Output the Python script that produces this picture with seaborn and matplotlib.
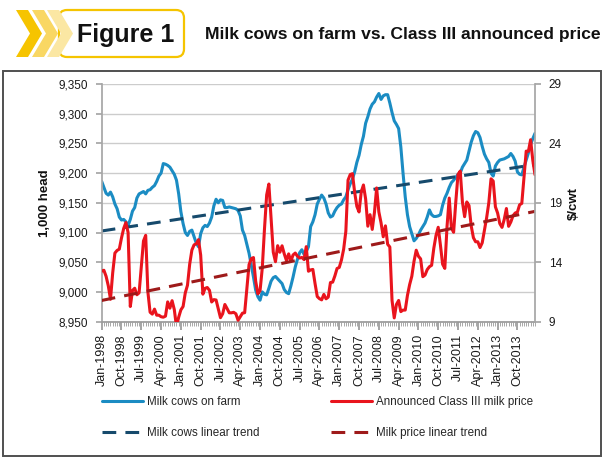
import numpy as np
import pandas as pd
import matplotlib
matplotlib.use("Agg")
import matplotlib.pyplot as plt
from matplotlib.patches import Polygon, FancyBboxPatch, Rectangle
from matplotlib.lines import Line2D
from matplotlib.ticker import FuncFormatter
import seaborn as sns

# Monthly data, Jan-1998 .. Jun-2014
cows = [
    9186, 9176, 9166, 9163, 9168, 9160, 9148, 9140, 9126, 9121, 9122, 9118,
    9112, 9122, 9136, 9142, 9158, 9165, 9167, 9169, 9165, 9171, 9172, 9176,
    9179, 9186, 9195, 9200, 9216, 9215, 9213, 9210, 9204, 9198, 9188, 9165,
    9135, 9115, 9100, 9095, 9102, 9104, 9093, 9082, 9076, 9098, 9108, 9112,
    9110, 9116, 9126, 9145, 9156, 9150, 9155, 9154, 9142, 9142, 9143, 9142,
    9141, 9140, 9137, 9128, 9104, 9095, 9080, 9065, 9045, 9025, 9003, 8992,
    8986, 9000, 8996, 8995, 9006, 9018, 9024, 9026, 9022, 9018, 9014, 9004,
    8999, 8997, 9010, 9025, 9042, 9055, 9066, 9071, 9063, 9068, 9076, 9110,
    9118, 9130, 9148, 9156, 9163, 9158, 9148, 9133, 9126, 9128, 9136, 9142,
    9146, 9148, 9155, 9160, 9172, 9182, 9190, 9202, 9218, 9230, 9248, 9262,
    9284, 9295, 9308, 9316, 9320, 9328, 9334, 9324, 9330, 9332, 9332, 9318,
    9302, 9288, 9282, 9275, 9244, 9200, 9160, 9130, 9110, 9098, 9086, 9090,
    9096, 9104, 9110, 9116, 9126, 9138, 9130, 9127, 9127, 9128, 9130, 9146,
    9158, 9166, 9176, 9184, 9188, 9193, 9198, 9200, 9210, 9216, 9222, 9237,
    9252, 9263, 9270, 9268, 9260, 9245, 9232, 9224, 9218, 9200, 9195, 9212,
    9218, 9222, 9223, 9224, 9226, 9228, 9233, 9228, 9220, 9202, 9198, 9197,
    9210, 9222, 9234, 9248, 9258, 9267,
]
price = [
    13.25, 13.32, 12.81, 12.01, 10.88, 13.10, 14.77, 14.99, 15.10, 16.04, 16.84, 17.34,
    16.50, 10.27, 11.62, 11.81, 11.26, 11.42, 13.59, 15.79, 16.26, 11.49, 9.79, 9.63,
    10.05, 9.54, 9.54, 9.41, 9.37, 9.46, 10.66, 10.13, 10.76, 10.02, 8.57, 9.37,
    9.99, 10.27, 11.42, 12.06, 13.83, 15.02, 15.46, 15.55, 15.90, 14.60, 11.31, 11.80,
    11.87, 11.63, 10.65, 10.85, 10.82, 10.09, 9.33, 9.66, 10.44, 10.10, 9.74, 9.74,
    9.78, 9.66, 9.11, 9.41, 9.71, 9.75, 11.78, 13.80, 14.30, 14.39, 12.41, 11.34,
    11.61, 13.49, 16.77, 19.66, 20.58, 17.68, 14.85, 14.04, 15.39, 14.84, 15.38, 14.70,
    14.14, 14.70, 14.08, 14.61, 14.77, 14.50, 14.35, 14.40, 14.22, 15.31, 13.24, 13.35,
    13.39, 12.20, 11.11, 10.93, 10.83, 11.29, 10.92, 11.06, 12.29, 12.32, 12.84, 13.47,
    13.56, 14.18, 15.09, 16.60, 20.91, 21.38, 21.45, 19.89, 18.70, 18.23, 19.92, 20.50,
    19.32, 17.03, 18.00, 16.76, 18.18, 20.25, 18.24, 17.32, 16.14, 17.06, 15.51, 15.28,
    10.78, 9.31, 10.44, 10.78, 9.84, 9.97, 9.97, 11.20, 12.11, 12.82, 14.08, 15.01,
    14.50, 14.28, 12.78, 12.92, 13.38, 13.62, 13.74, 15.18, 16.26, 16.94, 15.44, 13.83,
    13.48, 17.00, 19.40, 16.87, 16.52, 19.11, 21.39, 21.67, 19.07, 17.83, 19.07, 18.77,
    17.05, 16.06, 15.72, 15.72, 15.23, 15.63, 16.68, 17.73, 19.00, 21.02, 20.83, 18.66,
    18.14, 17.25, 16.93, 17.59, 18.52, 17.02, 17.38, 17.91, 18.14, 18.22, 18.83, 18.95,
    21.15, 23.35, 23.33, 24.31, 22.57, 21.36,
]
tick_labels = [
    "Jan-1998", "Oct-1998", "Jul-1999", "Apr-2000", "Jan-2001", "Oct-2001",
    "Jul-2002", "Apr-2003", "Jan-2004", "Oct-2004", "Jul-2005", "Apr-2006",
    "Jan-2007", "Oct-2007", "Jul-2008", "Apr-2009", "Jan-2010", "Oct-2010",
    "Jul-2011", "Apr-2012", "Jan-2013", "Oct-2013",
]
series_labels = ["Milk cows on farm", "Milk cows linear trend",
                 "Announced Class III milk price", "Milk price linear trend"]

COW_BLUE = "#1b8cc3"
PRICE_RED = "#e9141d"
COW_TREND = "#164a6c"
PRICE_TREND = "#9e1a1a"
GRID = "#cccccc"
DASH = (0, (4.5, 3))

sns.set_theme(style="white")
plt.rcParams["font.family"] = ["Liberation Sans", "DejaVu Sans"]

df = pd.DataFrame({"month": np.arange(len(cows)), "cows": cows, "price": price})

W, H = 610, 468
fig = plt.figure(figsize=(W / 100, H / 100), dpi=100)

def fx(x):
    return x / W

def fy(y):
    return 1 - y / H

# outer frame
fig.patches.append(Rectangle((fx(3), fy(456)), fx(598), (456 - 71) / H,
                             transform=fig.transFigure, fill=False,
                             edgecolor="#505050", lw=1.4))

# header
hax = fig.add_axes([0, fy(64), 1, 64 / H])
hax.set_xlim(0, W)
hax.set_ylim(64, 0)
hax.axis("off")
hax.add_patch(FancyBboxPatch((59, 10), 125, 47, boxstyle="round,pad=0,rounding_size=8",
                             fc="white", ec="#f5c400", lw=1.6))
for x0, c in [(16, "#f6c400"), (32, "#f9d763"), (47, "#fbe7a3")]:
    pts = [(x0, 10), (x0 + 12, 10), (x0 + 26, 33.5), (x0 + 12, 57), (x0, 57), (x0 + 14, 33.5)]
    hax.add_patch(Polygon(pts, closed=True, fc=c, ec="none"))
hax.text(77, 35, "Figure 1", fontsize=18, fontweight="bold", va="center", ha="left", color="#111111")
hax.text(205, 35, "Milk cows on farm vs. Class III announced price", fontsize=12.6,
         fontweight="bold", va="center", ha="left", color="#111111")

# chart
ax = fig.add_axes([fx(101.7), fy(321.6), (535 - 101.7) / W, (321.6 - 84) / H])
ax2 = ax.twinx()

sns.lineplot(data=df, x="month", y="cows", ax=ax, color=COW_BLUE, lw=2.2)
sns.regplot(data=df, x="month", y="cows", ax=ax, scatter=False, ci=None, color=COW_TREND,
            line_kws=dict(lw=2.2, linestyle=DASH))
sns.lineplot(data=df, x="month", y="price", ax=ax2, color=PRICE_RED, lw=2.2)
sns.regplot(data=df, x="month", y="price", ax=ax2, scatter=False, ci=None, color=PRICE_TREND,
            line_kws=dict(lw=2.2, linestyle=DASH))

ax.set_xlim(0, len(cows) - 1)
ax.set_ylim(8950, 9350)
ax.set_yticks(range(8950, 9351, 50))
ax.yaxis.set_major_formatter(FuncFormatter(lambda v, p: f"{int(v):,}"))
ax2.set_ylim(9, 29)
ax2.set_yticks(range(9, 30, 5))

ax.set_xticks(range(0, 9 * len(tick_labels), 9))
ax.set_xticklabels(tick_labels, rotation=90, fontsize=9, color="#1a1a1a")
ax.set_xticks(range(len(cows)), minor=True)

ax.grid(axis="y", color=GRID, lw=1.0)
ax.grid(axis="x", visible=False)
for a in (ax, ax2):
    for s in a.spines.values():
        s.set_visible(False)
ax.spines["left"].set_visible(True)
ax.spines["bottom"].set_visible(True)
ax2.spines["right"].set_visible(True)
ax.spines["left"].set_color("#a6a6a6")
ax.spines["bottom"].set_color("#9a9a9a")
ax2.spines["right"].set_color("#a6a6a6")

ax.tick_params(axis="y", which="major", left=True, length=4, color="#a6a6a6",
               labelsize=8.5, labelcolor="#1a1a1a", pad=6)
ax.tick_params(axis="x", which="major", bottom=True, length=6, color="#9a9a9a", pad=3)
ax.tick_params(axis="x", which="minor", bottom=True, length=3, color="#9a9a9a", width=0.6)
ax2.tick_params(axis="y", right=True, length=4, color="#a6a6a6",
                labelsize=8.5, labelcolor="#1a1a1a", pad=6)

ax.set_xlabel("")
ax.set_ylabel("")
ax2.set_ylabel("")
fig.text(fx(45), fy(203), "1,000 head", rotation=90, fontsize=9.5, fontweight="bold",
         ha="center", va="center", color="#111111")
fig.text(fx(574), fy(203), "$/cwt", rotation=90, fontsize=9.5, fontweight="bold",
         ha="center", va="center", color="#111111")

# legend: one entry per slot so the two rows line up across columns
handles = [
    Line2D([], [], color=COW_BLUE, lw=2.2),
    Line2D([], [], color=COW_TREND, lw=2.2, linestyle=DASH),
    Line2D([], [], color=PRICE_RED, lw=2.2),
    Line2D([], [], color=PRICE_TREND, lw=2.2, linestyle=DASH),
]
slots = [(102, 402), (102, 433), (331, 402), (331, 433)]
for h, lab, (lx, ly) in zip(handles, series_labels, slots):
    fig.legend([h], [lab], loc="center left", bbox_to_anchor=(fx(lx), fy(ly)),
               frameon=False, borderpad=0, borderaxespad=0, handlelength=3.5,
               handletextpad=0.35, prop=dict(size=8.4))

fig.savefig("out.png", dpi=100)
